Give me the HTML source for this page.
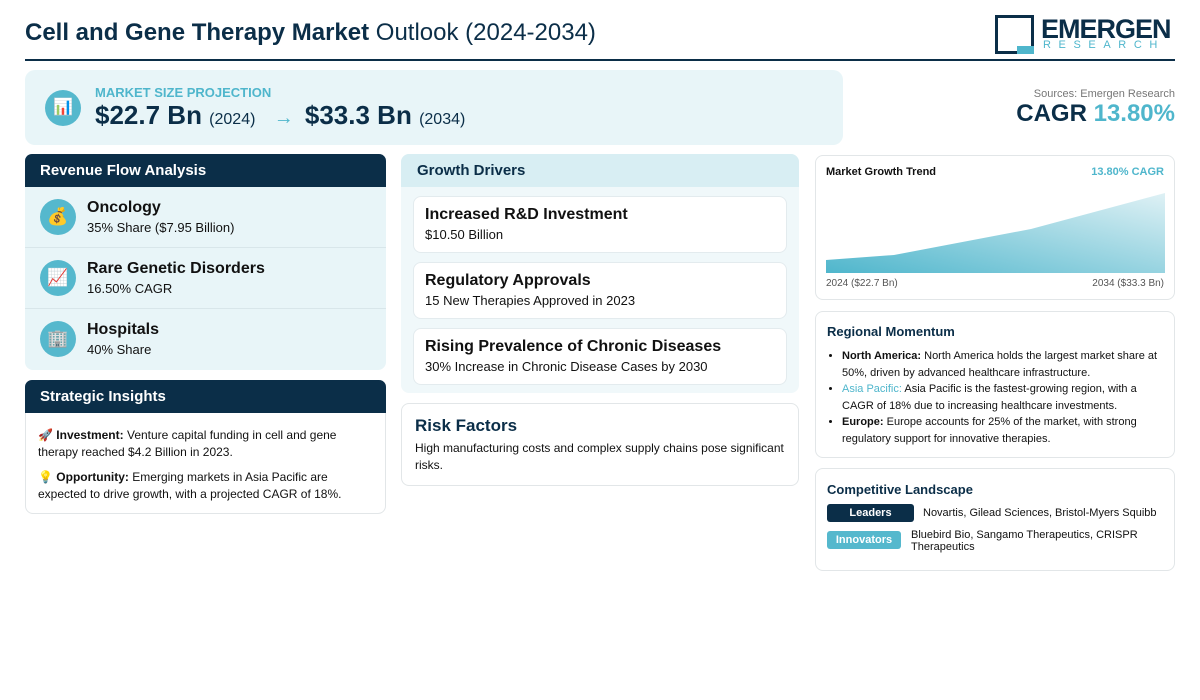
<!DOCTYPE html>
<html><head><meta charset="utf-8"><style>
*{margin:0;padding:0;box-sizing:border-box}
body{width:1200px;height:700px;background:#fff;font-family:"Liberation Sans",sans-serif;position:relative;overflow:hidden;color:#111}
.a{position:absolute}
.nv{color:#0b2e48}
.tl{color:#4fb6cc}
.card{position:absolute;border:1px solid #e2e6e8;border-radius:8px;background:#fff}
.hd{position:absolute;left:0;right:0;top:0;background:#0b2e48;color:#fff;font-weight:bold;font-size:15px;padding-left:15px;border-radius:7px 7px 0 0}
.ic{position:absolute;width:36px;height:36px;border-radius:50%;background:#55b8cd;text-align:center;line-height:36px;font-size:17px}
.rt{position:absolute;left:87px;font-size:16px;font-weight:bold}
.rs{position:absolute;left:87px;font-size:13px}
.dc{position:absolute;left:12px;right:12px;height:57px;background:#fff;border:1px solid #e3ebee;border-radius:8px}
.dc b{position:absolute;left:11px;top:9px;font-size:16px}
.dc span{position:absolute;left:11px;top:30px;font-size:13px}
</style></head><body>
<div class="a nv" style="left:25px;top:19px;font-size:24px;"><b>Cell and Gene Therapy Market</b> Outlook (2024-2034)</div>
<div class="a" style="left:25px;top:59px;width:1150px;height:2px;background:#0b2e48"></div>
<div class="a" style="left:995px;top:15px;width:39px;height:39px;border:3px solid #0b2e48;border-right-color:#0b2e48"></div>
<div class="a" style="left:1017px;top:46px;width:17px;height:8px;background:#4fb6cc"></div>
<div class="a nv" style="left:1041px;top:14px;font-size:27px;font-weight:bold;letter-spacing:-1px">EMERGEN</div>
<div class="a tl" style="left:1043px;top:39px;font-size:11px;letter-spacing:7.6px">RESEARCH</div>

<div class="a" style="left:25px;top:70px;width:818px;height:75px;background:#e8f5f8;border-radius:10px"></div>
<div class="ic" style="left:45px;top:90px;font-size:16px">📊</div>
<div class="a tl" style="left:95px;top:85px;font-size:13px;font-weight:bold">MARKET SIZE PROJECTION</div>
<div class="a nv" style="left:95px;top:100px;font-size:26px;font-weight:bold;white-space:nowrap">$22.7 Bn <span style="font-size:16px;font-weight:normal">(2024)</span> <span class="tl" style="font-size:20px;font-weight:normal">&nbsp;&nbsp;→&nbsp;&nbsp;</span>$33.3 Bn <span style="font-size:16px;font-weight:normal">(2034)</span></div>
<div class="a" style="right:25px;top:88px;font-size:11px;color:#777">Sources: Emergen Research</div>
<div class="a nv" style="right:25px;top:100px;font-size:24px;font-weight:bold">CAGR <span class="tl">13.80%</span></div>

<div class="card" style="left:25px;top:154px;width:361px;height:216px;background:#e8f5f8;border:none">
<div class="hd" style="height:33px;line-height:33px">Revenue Flow Analysis</div>
<div class="ic" style="left:15px;top:45px">💰</div><div class="rt" style="left:62px;top:45px">Oncology</div><div class="rs" style="left:62px;top:66px">35% Share ($7.95 Billion)</div>
<div class="a" style="left:0;right:0;top:93px;height:1px;background:#d8e6ea"></div>
<div class="ic" style="left:15px;top:106px">📈</div><div class="rt" style="left:62px;top:106px">Rare Genetic Disorders</div><div class="rs" style="left:62px;top:127px">16.50% CAGR</div>
<div class="a" style="left:0;right:0;top:154px;height:1px;background:#d8e6ea"></div>
<div class="ic" style="left:15px;top:167px">🏢</div><div class="rt" style="left:62px;top:167px">Hospitals</div><div class="rs" style="left:62px;top:188px">40% Share</div>
</div>

<div class="card" style="left:25px;top:380px;width:361px;height:134px">
<div class="hd" style="height:33px;line-height:33px;top:-1px;left:-1px;right:-1px">Strategic Insights</div>
<div class="a" style="left:12px;top:46px;font-size:12px;line-height:17px;width:330px">🚀 <b>Investment:</b> Venture capital funding in cell and gene therapy reached $4.2 Billion in 2023.</div>
<div class="a" style="left:12px;top:88px;font-size:12px;line-height:17px;width:330px">💡 <b>Opportunity:</b> Emerging markets in Asia Pacific are expected to drive growth, with a projected CAGR of 18%.</div>
</div>

<div class="a" style="left:401px;top:154px;width:398px;height:239px;background:#f0f8fa;border-radius:8px">
<div class="a nv" style="left:0;right:0;top:0;height:33px;line-height:33px;background:#d8eef3;border-radius:8px 8px 0 0;padding-left:16px;font-size:15px;font-weight:bold">Growth Drivers</div>
<div class="dc" style="top:42px"><b>Increased R&amp;D Investment</b><span>$10.50 Billion</span></div>
<div class="dc" style="top:108px"><b>Regulatory Approvals</b><span>15 New Therapies Approved in 2023</span></div>
<div class="dc" style="top:174px"><b>Rising Prevalence of Chronic Diseases</b><span>30% Increase in Chronic Disease Cases by 2030</span></div>
</div>

<div class="card" style="left:401px;top:403px;width:398px;height:83px">
<div class="a nv" style="left:13px;top:12px;font-size:17px;font-weight:bold">Risk Factors</div>
<div class="a" style="left:13px;top:36px;font-size:12px;line-height:17px;width:375px">High manufacturing costs and complex supply chains pose significant risks.</div>
</div>

<div class="card" style="left:815px;top:155px;width:360px;height:145px">
<div class="a" style="left:10px;top:10px;font-size:11px;font-weight:bold">Market Growth Trend</div>
<div class="a tl" style="right:10px;top:10px;font-size:11px;font-weight:bold">13.80% CAGR</div>
<svg class="a" style="left:0;top:0" width="360" height="145"><defs><linearGradient id="g" x1="0" y1="1" x2="1" y2="0"><stop offset="0" stop-color="#4fb6cc"/><stop offset="1" stop-color="#dff1f5"/></linearGradient></defs><path d="M10 104 L78 99 L215 73 L349 37 L349 117 L10 117 Z" fill="url(#g)"/></svg>
<div class="a" style="left:10px;top:122px;font-size:10px;color:#555">2024 ($22.7 Bn)</div>
<div class="a" style="right:10px;top:122px;font-size:10px;color:#555">2034 ($33.3 Bn)</div>
</div>

<div class="card" style="left:815px;top:311px;width:360px;height:147px">
<div class="a nv" style="left:11px;top:12px;font-size:13px;font-weight:bold">Regional Momentum</div>
<ul class="a" style="left:26px;top:36px;width:325px;font-size:11px;line-height:16.6px">
<li><b>North America:</b> North America holds the largest market share at 50%, driven by advanced healthcare infrastructure.</li>
<li><b class="tl" style="font-weight:normal">Asia Pacific:</b> Asia Pacific is the fastest-growing region, with a CAGR of 18% due to increasing healthcare investments.</li>
<li><b>Europe:</b> Europe accounts for 25% of the market, with strong regulatory support for innovative therapies.</li>
</ul></div>

<div class="card" style="left:815px;top:468px;width:360px;height:103px">
<div class="a nv" style="left:11px;top:13px;font-size:13px;font-weight:bold">Competitive Landscape</div>
<div class="a" style="left:11px;top:35px;width:87px;height:18px;background:#0b2e48;color:#fff;border-radius:3px;text-align:center;font-size:11px;font-weight:bold;line-height:18px">Leaders</div>
<div class="a" style="left:107px;top:38px;font-size:11px">Novartis, Gilead Sciences, Bristol-Myers Squibb</div>
<div class="a" style="left:11px;top:62px;width:74px;height:18px;background:#55b8cd;color:#fff;border-radius:3px;text-align:center;font-size:11px;font-weight:bold;line-height:18px">Innovators</div>
<div class="a" style="left:95px;top:60px;font-size:11px;line-height:12px;width:255px">Bluebird Bio, Sangamo Therapeutics, CRISPR Therapeutics</div>
</div>
</body></html>
